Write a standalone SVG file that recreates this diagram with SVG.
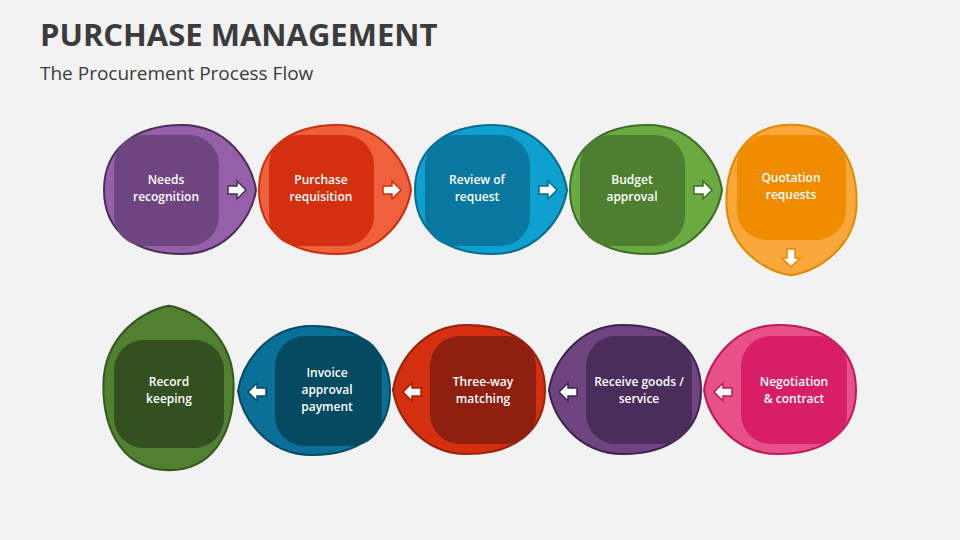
<svg xmlns="http://www.w3.org/2000/svg" width="960" height="540" viewBox="0 0 960 540">
<style>
.t{font-family:"Open Sans","Liberation Sans",sans-serif;font-weight:600;font-size:12px;fill:#fff;text-anchor:middle}
.ar{fill:#fff;stroke-width:1.5}
</style>
<defs>
<path id="egg" d="M -76,0 C -76,-42 -44,-65 2,-65 C 48,-65 72,-26 76,0 C 72,26 48,64 2,64 C -44,64 -76,42 -76,0 Z" stroke-width="2"/>
<path id="arr" d="M -9,-4 H 0 V -9 L 9,0 L 0,9 V 4 H -9 Z"/>
</defs>
<rect width="960" height="540" fill="#f2f2f2"/>
<text x="40" y="46" font-family="Open Sans,Liberation Sans,sans-serif" font-weight="bold" font-size="31" fill="#3b3b3b">PURCHASE MANAGEMENT</text>
<text x="40" y="80" font-family="Open Sans,Liberation Sans,sans-serif" font-size="19" fill="#3b3b3b">The Procurement Process Flow</text>

<g id="n1"><use href="#egg" transform="translate(180,190)" fill="#9560A8" stroke="#4A2D5A"/><rect x="114" y="135" width="105" height="111" rx="30" fill="#6E4580"/><use href="#arr" transform="translate(237,190)" class="ar" stroke="#4A2D5A"/><text class="t" x="166" y="184">Needs</text><text class="t" x="166" y="201">recognition</text></g>
<g id="n2"><use href="#egg" transform="translate(335,190)" fill="#F0603C" stroke="#C8300F"/><rect x="269" y="135" width="105" height="111" rx="30" fill="#D4300F"/><use href="#arr" transform="translate(392,190)" class="ar" stroke="#C8300F"/><text class="t" x="321" y="184">Purchase</text><text class="t" x="321" y="201">requisition</text></g>
<g id="n3"><use href="#egg" transform="translate(491,190)" fill="#0EA0CF" stroke="#076C90"/><rect x="425" y="135" width="105" height="111" rx="30" fill="#0878A0"/><use href="#arr" transform="translate(548,190)" class="ar" stroke="#076C90"/><text class="t" x="477" y="184">Review of</text><text class="t" x="477" y="201">request</text></g>
<g id="n4"><use href="#egg" transform="translate(646,190)" fill="#6BAA40" stroke="#3F6E25"/><rect x="580" y="135" width="105" height="111" rx="30" fill="#4E7F30"/><use href="#arr" transform="translate(703,190)" class="ar" stroke="#3F6E25"/><text class="t" x="632" y="184">Budget</text><text class="t" x="632" y="201">approval</text></g>
<g id="n5"><use href="#egg" transform="translate(791,200) rotate(90) scale(0.99,1.01)" fill="#F8A83A" stroke="#E08A00"/><rect x="737" y="135" width="109" height="105" rx="30" fill="#F08C00"/><use href="#arr" transform="translate(791,258) rotate(90)" class="ar" stroke="#E08A00"/><text class="t" x="791" y="182">Quotation</text><text class="t" x="791" y="199">requests</text></g>

<g id="n6"><use href="#egg" transform="translate(780,390) scale(-1,1)" fill="#E8508A" stroke="#C01858"/><rect x="741" y="336" width="106" height="108" rx="30" fill="#D81E64"/><use href="#arr" transform="translate(723,392) scale(-1,1)" class="ar" stroke="#C01858"/><text class="t" x="794" y="386">Negotiation</text><text class="t" x="794" y="403">&amp; contract</text></g>
<g id="n7"><use href="#egg" transform="translate(625,390) scale(-1,1)" fill="#6E4580" stroke="#3E2450"/><rect x="586" y="336" width="106" height="108" rx="30" fill="#4A2D5A"/><use href="#arr" transform="translate(568,392) scale(-1,1)" class="ar" stroke="#3E2450"/><text class="t" x="639" y="386">Receive goods /</text><text class="t" x="639" y="403">service</text></g>
<g id="n8"><use href="#egg" transform="translate(469,390) scale(-1,1)" fill="#D4300F" stroke="#9A200A"/><rect x="430" y="336" width="106" height="108" rx="30" fill="#8F2010"/><use href="#arr" transform="translate(412,392) scale(-1,1)" class="ar" stroke="#9A200A"/><text class="t" x="483" y="386">Three-way</text><text class="t" x="483" y="403">matching</text></g>
<g id="n9"><use href="#egg" transform="translate(314,391) scale(-1,1)" fill="#0A7098" stroke="#054A64"/><rect x="275" y="336" width="107" height="110" rx="30" fill="#064A62"/><use href="#arr" transform="translate(257,392) scale(-1,1)" class="ar" stroke="#054A64"/><text class="t" x="327" y="377">Invoice</text><text class="t" x="327" y="394">approval</text><text class="t" x="327" y="411">payment</text></g>
<g id="n10"><use href="#egg" transform="translate(169,388) rotate(-90) scale(1.08,1.01)" fill="#508030" stroke="#355820"/><rect x="114" y="340" width="110" height="108" rx="30" fill="#345020"/><text class="t" x="169" y="386">Record</text><text class="t" x="169" y="403">keeping</text></g>
<g id="connectors"></g>
</svg>
